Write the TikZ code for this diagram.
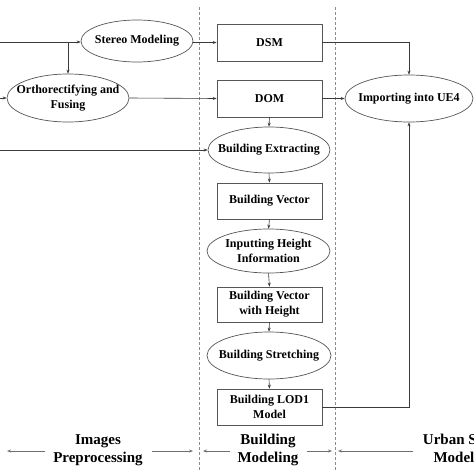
\documentclass[tikz,border=0pt]{standalone}
\usepackage{fontspec}
\setmainfont{Liberation Serif}
\usetikzlibrary{shapes.geometric,arrows.meta}
\definecolor{linec}{HTML}{3A3A3A}
\definecolor{boxc}{HTML}{555555}
\definecolor{dashc}{HTML}{8C8C8C}
\definecolor{arrc}{HTML}{707070}
\tikzset{
  boxnode/.style={draw=boxc, line width=0.7pt, rectangle, minimum width=105pt, minimum height=36pt, inner sep=0pt, align=center, font=\fontsize{12}{15}\selectfont\bfseries, text=black},
  ellnode/.style={draw=boxc, line width=0.7pt, ellipse, inner sep=0pt},
  elltext/.style={align=center, font=\fontsize{12}{15}\selectfont\bfseries, text=black, inner sep=0pt},
  conn/.style={draw=linec, line width=0.6pt, -{Stealth[length=4pt,width=3pt]}},
  sep/.style={draw=dashc, line width=0.7pt, dash pattern=on 3pt off 2pt},
  secarrow/.style={draw=arrc, line width=0.6pt, -{Stealth[length=4pt,width=3pt]}},
  seclabel/.style={align=center, font=\fontsize{15}{17.5}\selectfont\bfseries, text=black, inner sep=0pt}
}
\begin{document}
\begin{tikzpicture}[x=1pt,y=-1pt]
\useasboundingbox (0,0) rectangle (474,474);
\clip (0,0) rectangle (474,474);
\fill[white] (0,0) rectangle (474,474);
% separators
\draw[sep] (199,7) -- (199,470);
\draw[sep] (335,7) -- (335,470);
% ellipse nodes (shapes) and their texts
\node[ellnode, minimum width=112pt, minimum height=42pt] (stereo) at (137,41) {};
\node[elltext] (stereot) at (stereo.center) {Stereo Modeling};
\node[ellnode, minimum width=122pt, minimum height=48pt] (ortho) at (68,98) {};
\node[elltext] (orthot) at (ortho.center) {Orthorectifying and\\Fusing};
\node[ellnode, minimum width=128pt, minimum height=47pt] (imp) at (409,98.5) {};
\node[elltext] (impt) at (imp.center) {Importing into UE4};
\node[ellnode, minimum width=122pt, minimum height=46pt] (bext) at (269,150) {};
\node[elltext] (bextt) at (bext.center) {Building Extracting};
\node[ellnode, minimum width=123pt, minimum height=44pt] (inph) at (268.5,251) {};
\node[elltext] (inpht) at (inph.center) {Inputting Height\\Information};
\node[ellnode, minimum width=124pt, minimum height=47pt] (bstr) at (269,355.5) {};
\node[elltext] (bstrt) at (bstr.center) {Building Stretching};
% boxes
\node[boxnode, minimum height=37pt] (dsm) at (269.5,42.5) {DSM};
\node[boxnode, minimum height=37pt] (dom) at (269.5,98.5) {DOM};
\node[boxnode] (bvec) at (269.5,201) {Building Vector};
\node[boxnode, minimum height=35pt] (bvh) at (269.5,304.5) {Building Vector\\with Height};
\node[boxnode] (lod) at (269.5,407) {Building LOD1\\Model};
% inputs
\coordinate (in1) at (0,42);
\coordinate (in2) at (0,98);
\coordinate (in3) at (0,150);
\coordinate (j1) at (68,42);
\draw[conn] (in1) -- (stereo.west |- in1);
\draw[conn] (j1) -- (ortho.north);
\draw[conn] (in2) -- (ortho.west);
\draw[conn] (in3) -- (bext.west);
% flow
\draw[conn] (stereo.east |- dsm.west) -- (dsm.west);
\draw[conn] (ortho.east) -- (dom.west);
\draw[conn] (dsm.east) -| (imp.north);
\draw[conn] (dom.east) -- (imp.west);
\draw[conn] (dom.south) -- (bext.north);
\draw[conn] (bext.south) -- (bvec.north);
\draw[conn] (bvec.south) -- (inph.north);
\draw[conn] (inph.south) -- (bvh.north);
\draw[conn] (bvh.south) -- (bstr.north);
\draw[conn] (bstr.south) -- (lod.north);
\draw[conn] (lod.east) -| (imp.south);
% section labels
\node[seclabel] (l1) at (98,450) {Images\\Preprocessing};
\node[seclabel] (l2) at (268,450) {Building\\Modeling};
\node[seclabel] (l3) at (464,450) {Urban Scene\\Modeling};
\coordinate (a1s) at (45,451); \coordinate (a1e) at (7,451);
\coordinate (a2s) at (152,451); \coordinate (a2e) at (193,451);
\coordinate (a3s) at (230,451); \coordinate (a3e) at (203,451);
\coordinate (a4s) at (307,451); \coordinate (a4e) at (332,451);
\coordinate (a5s) at (413,451); \coordinate (a5e) at (338,451);
\draw[secarrow] (a1s) -- (a1e);
\draw[secarrow] (a2s) -- (a2e);
\draw[secarrow] (a3s) -- (a3e);
\draw[secarrow] (a4s) -- (a4e);
\draw[secarrow] (a5s) -- (a5e);
\end{tikzpicture}
\end{document}
